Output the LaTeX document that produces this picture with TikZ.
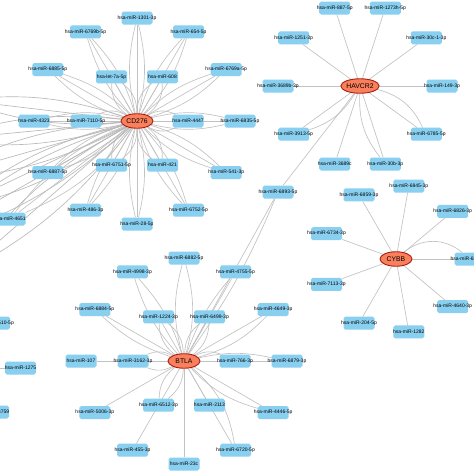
\documentclass[tikz,border=0pt]{standalone}
\usepackage{fontspec}
\setmainfont{Liberation Sans}
\usetikzlibrary{backgrounds,shapes.geometric}
\definecolor{mirfill}{HTML}{89CFF0}
\definecolor{hubfill}{HTML}{FA7F5C}
\definecolor{hubdraw}{HTML}{A81C0E}
\definecolor{edgec}{HTML}{C2C2C2}
\newcommand\mirtext[1]{\makebox[0pt]{#1}}
\tikzset{
  mir/.style={rectangle, rounded corners=1.8pt, fill=mirfill, minimum width=31pt,
    minimum height=13pt, inner sep=0pt, font=\fontsize{5}{5}\selectfont},
  hub/.style={ellipse, fill=hubfill, draw=hubdraw, line width=0.9pt, minimum width=32pt,
    minimum height=14.5pt, inner sep=0pt, font=\fontsize{6.8}{7}\selectfont},
  edge/.style={draw=edgec, line width=0.65pt},
}
\begin{document}
\begin{tikzpicture}[x=1pt,y=-1pt]
\useasboundingbox (0,0) rectangle (474,474);

% hubs
\node[hub] (cd) at (137,121) {CD276};
\node[hub] (hv) at (360,86) {HAVCR2};
\node[hub] (cy) at (396,259) {CYBB};
\node[hub] (bt) at (184,361) {BTLA};

% CD276 outer ring
\node[mir] (c0) at (240,121) {\mirtext{hsa-miR-6835-5p}};
\node[mir] (c1) at (226.2,69.5) {\mirtext{hsa-miR-6769a-5p}};
\node[mir] (c2) at (188.5,31.8) {\mirtext{hsa-miR-654-5p}};
\node[mir] (c3) at (137,18) {\mirtext{hsa-miR-1301-3p}};
\node[mir] (c4) at (85.5,31.8) {\mirtext{hsa-miR-6769b-5p}};
\node[mir] (c5) at (47.8,69.5) {\mirtext{hsa-miR-6885-5p}};
\node[mir] (c6) at (34,121) {\mirtext{hsa-miR-4323}};
\node[mir] (c7) at (47.8,172.5) {\mirtext{hsa-miR-6887-5p}};
\node[mir] (c8) at (85.5,210.2) {\mirtext{hsa-miR-486-3p}};
\node[mir] (c9) at (137,224) {\mirtext{hsa-miR-28-5p}};
\node[mir] (c10) at (188.5,210.2) {\mirtext{hsa-miR-6752-5p}};
\node[mir] (c11) at (226.2,172.5) {\mirtext{hsa-miR-541-3p}};
% CD276 inner ring
\node[mir] (ci0) at (188,121) {\mirtext{hsa-miR-4447}};
\node[mir] (ci1) at (162.5,76.8) {\mirtext{hsa-miR-608}};
\node[mir] (ci2) at (111.5,76.8) {\mirtext{hsa-let-7a-5p}};
\node[mir] (ci3) at (86,121) {\mirtext{hsa-miR-7110-5p}};
\node[mir] (ci4) at (111.5,165.2) {\mirtext{hsa-miR-6751-5p}};
\node[mir] (ci5) at (162.5,165.2) {\mirtext{hsa-miR-421}};

% BTLA outer ring
\node[mir] (b0) at (287,361) {\mirtext{hsa-miR-6879-3p}};
\node[mir] (b1) at (273.2,309.5) {\mirtext{hsa-miR-4649-3p}};
\node[mir] (b2) at (235.5,271.8) {\mirtext{hsa-miR-4755-5p}};
\node[mir] (b3) at (184,258) {\mirtext{hsa-miR-6882-5p}};
\node[mir] (b4) at (132.5,271.8) {\mirtext{hsa-miR-4998-3p}};
\node[mir] (b5) at (94.8,309.5) {\mirtext{hsa-miR-6884-5p}};
\node[mir] (b6) at (81,361) {\mirtext{hsa-miR-107}};
\node[mir] (b7) at (94.8,412.5) {\mirtext{hsa-miR-5006-3p}};
\node[mir] (b8) at (132.5,450.2) {\mirtext{hsa-miR-455-3p}};
\node[mir] (b9) at (184,464) {\mirtext{hsa-miR-23c}};
\node[mir] (b10) at (235.5,450.2) {\mirtext{hsa-miR-6720-5p}};
\node[mir] (b11) at (273.2,412.5) {\mirtext{hsa-miR-4446-5p}};
% BTLA inner ring
\node[mir] (bi0) at (235,361) {\mirtext{hsa-miR-766-3p}};
\node[mir] (bi1) at (209.5,316.8) {\mirtext{hsa-miR-6499-3p}};
\node[mir] (bi2) at (158.5,316.8) {\mirtext{hsa-miR-1224-3p}};
\node[mir] (bi3) at (133,361) {\mirtext{hsa-miR-3162-3p}};
\node[mir] (bi4) at (158.5,405.2) {\mirtext{hsa-miR-6512-3p}};
\node[mir] (bi5) at (209.5,405.2) {\mirtext{hsa-miR-2113}};

% HAVCR2 ring
\node[mir] (h0) at (442,86) {\mirtext{hsa-miR-149-3p}};
\node[mir] (h1) at (426.3,37.8) {\mirtext{hsa-miR-30c-1-3p}};
\node[mir] (h2) at (385.3,8) {\mirtext{hsa-miR-1273h-5p}};
\node[mir] (h3) at (334.7,8) {\mirtext{hsa-miR-887-5p}};
\node[mir] (h4) at (293.7,37.8) {\mirtext{hsa-miR-1251-3p}};
\node[mir] (h5) at (278,86) {\mirtext{hsa-miR-3689b-3p}};
\node[mir] (h6) at (293.7,134.2) {\mirtext{hsa-miR-3913-5p}};
\node[mir] (h7) at (334.7,164) {\mirtext{hsa-miR-3689c}};
\node[mir] (h8) at (385.3,164) {\mirtext{hsa-miR-30b-3p}};
\node[mir] (h9) at (426.3,134.2) {\mirtext{hsa-miR-6785-5p}};

% CYBB ring
\node[mir] (y0) at (470,259) {\mirtext{hsa-miR-6849-3p}};
\node[mir] (y1) at (452.7,211.4) {\mirtext{hsa-miR-6826-3p}};
\node[mir] (y2) at (408.8,186.1) {\mirtext{hsa-miR-6845-3p}};
\node[mir] (y3) at (359,194.9) {\mirtext{hsa-miR-6859-3p}};
\node[mir] (y4) at (326.5,233.7) {\mirtext{hsa-miR-6734-3p}};
\node[mir] (y5) at (326.5,284.3) {\mirtext{hsa-miR-7113-3p}};
\node[mir] (y6) at (359,323.1) {\mirtext{hsa-miR-204-5p}};
\node[mir] (y7) at (408.8,331.9) {\mirtext{hsa-miR-1282}};
\node[mir] (y8) at (452.7,306.6) {\mirtext{hsa-miR-4640-3p}};

% shared / partly visible
\node[mir] (s1) at (278,192) {\mirtext{hsa-miR-6893-5p}};
\node[mir] (l1) at (10,219) {\mirtext{hsa-miR-4651}};
\node[mir] (l2) at (-5.5,323) {\mirtext{hsa-miR-6510-5p}};
\node[mir] (l3) at (20.5,368) {\mirtext{hsa-miR-1275}};
\node[mir] (l4) at (-6.5,412) {\mirtext{hsa-miR-4759}};

% off-picture ends
\coordinate (o1) at (-40,100);
\coordinate (o2) at (-60,140);
\coordinate (o3) at (-70,180);
\coordinate (o4) at (-50,210);
\coordinate (o5) at (-80,245);
\coordinate (o6) at (-40,275);
\coordinate (o7) at (-60,368);
\coordinate (o8) at (-60,300);

\begin{pgfonlayer}{background}
\fill[white] (0,0) rectangle (474,474);
% CD276
\foreach \n in {c0,c1,c2,c3,c4,c5,c6,c7,c8,c9,c10,c11} {
  \draw[edge] (cd) -- (\n);
  \draw[edge] (cd) to[bend left=13] (\n);
  \draw[edge] (cd) to[bend right=13] (\n);
}
\foreach \n in {ci0,ci1,ci2,ci3,ci4,ci5} {
  \draw[edge] (cd) -- (\n);
  \draw[edge] (cd) to[bend left=28] (\n);
  \draw[edge] (cd) to[bend right=28] (\n);
}
\foreach \n in {o1,o2,o3,o4,o5,o6} {
  \draw[edge,draw=gray!55] (cd) -- (\n);
  \draw[edge,draw=gray!55] (cd) to[bend left=12] (\n);
  \draw[edge,draw=gray!55] (cd) to[bend right=12] (\n);
}
\draw[edge] (cd) -- (l1);
\draw[edge] (cd) to[bend left=15] (l1);
\draw[edge] (cd) to[bend right=15] (l1);
\draw[edge] (l3) -- (o7);
\draw[edge] (l2) -- (o8);
% BTLA
\foreach \n in {b0,b1,b2,b5,b6,b7,b8,b9,b10,b11,bi0,bi1,bi2,bi5} {
  \draw[edge] (bt) -- (\n);
}
\draw[edge] (bt) to[bend left=12] (b0);
\draw[edge] (bt) to[bend right=15] (b1);
\draw[edge] (bt) to[bend left=10] (b2);
\draw[edge] (bt) to[bend left=15] (b3);
\draw[edge] (bt) to[bend right=15] (b3);
\draw[edge] (bt) to[bend left=12] (b4);
\draw[edge] (bt) to[bend right=12] (b4);
\draw[edge] (bt) to[bend left=12] (b5);
\draw[edge] (bt) to[bend left=20] (b10);
\draw[edge] (bt) to[bend right=15] (b11);
\draw[edge] (bt) to[bend left=25] (bi0);
\draw[edge] (bt) to[bend left=25] (bi1);
\draw[edge] (bt) to[bend right=25] (bi1);
\draw[edge] (bt) to[bend left=25] (bi2);
\draw[edge] (bt) to[bend right=25] (bi2);
\draw[edge] (bt) to[bend left=25] (bi3);
\draw[edge] (bt) to[bend right=25] (bi3);
\draw[edge] (bt) to[bend left=25] (bi4);
\draw[edge] (bt) to[bend right=25] (bi4);
% HAVCR2
\foreach \n in {h0,h1,h2,h3,h4,h5,h6,h7,h8,h9} {
  \draw[edge] (hv) -- (\n);
}
\draw[edge] (hv) to[bend left=25] (h9);
\draw[edge] (hv) to[bend right=20] (h8);
\draw[edge] (hv) to[bend left=20] (h6);
\draw[edge] (hv) -- (s1);
\draw[edge] (s1) -- (bt);
\draw[edge] (s1) to[bend left=6] (bt);
% CYBB
\foreach \n in {y0,y1,y2,y3,y4,y5,y6,y7,y8} {
  \draw[edge] (cy) -- (\n);
}
\draw[edge] (cy) to[bend left=40] (y0);
\end{pgfonlayer}
\end{tikzpicture}
\end{document}
